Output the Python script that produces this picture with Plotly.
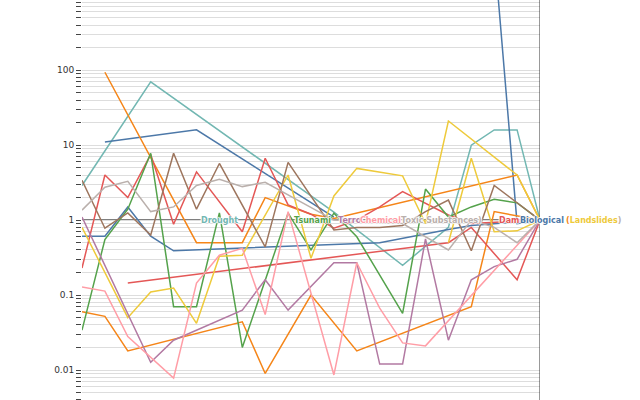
import plotly.graph_objects as go

# x positions (21 evenly spaced steps), values are indexed so the last step = 1
steps = list(range(21))
N = None

drought     = [2.9, N, N, 70, N, N, N, N, N, N, N, 1.28, N, N, 0.25, N, 0.8, 10, 16, 16, 1]
biological  = [N, 11, N, N, N, 16, N, N, N, N, N, 1.1, N, N, N, N, N, N, N, N, N]
biological2 = [0.61, 0.61, 1.5, 0.61, 0.39, N, N, N, N, N, N, N, N, 0.5, N, N, 0.75, 0.85, N, N, 1]
biological3 = [N, N, N, N, N, N, N, N, N, N, N, N, N, N, N, N, N, N, 4000, 0.9, 1]
orange1     = [N, 94, N, N, N, 0.5, 0.5, 0.5, 2.0, N, 1.2, 1.05, N, N, N, N, N, N, N, 4.0, 1]
orange2     = [0.06, 0.052, 0.018, N, N, N, N, 0.044, 0.009, N, 0.1, N, 0.018, N, N, N, N, 0.07, 1.3, N, 1]
dam         = [0.23, 4.0, 2.0, 7.5, 0.88, 4.4, N, 0.7, 6.7, 1.6, 1.2, 0.78, 1.0, 1.5, 2.4, N, 1.17, 0.9, N, N, 1]
dam2        = [N, N, 0.145, N, N, N, N, N, N, N, N, N, N, N, N, N, 0.5, 0.8, N, 0.16, 1]
tsunami     = [0.034, 0.55, 1.4, 7.8, 0.07, 0.07, 1.25, 0.02, N, 1.24, 0.4, 1.24, 0.6, N, 0.057, 2.6, 1.1, 1.5, 1.9, 1.7, 1]
landslides  = [0.8, N, 0.05, 0.11, 0.124, 0.042, 0.33, 0.34, N, 4.0, 0.31, 2.1, 4.9, N, 3.9, 0.9, 21, N, N, 4.0, 1]
landslides2 = [N, N, N, N, N, N, N, N, N, N, N, N, N, N, N, N, 0.5, 6.7, 0.7, 0.72, 1]
terrorism   = [1.1, N, N, 0.0127, 0.025, N, N, 0.063, 0.16, 0.063, N, 0.27, 0.27, 0.012, 0.012, 0.56, 0.025, 0.16, 0.24, 0.3, 1]
chemical    = [0.128, 0.113, 0.028, N, 0.0078, 0.145, 0.34, 0.42, 0.055, 1.3, N, 0.0086, 0.27, 0.067, 0.023, 0.021, N, N, N, N, 1]
brown       = [3.4, 0.78, 1.25, 0.63, 7.8, 1.4, 5.7, N, 0.44, 5.9, N, 0.74, 0.8, 0.8, 0.85, 1.3, 1.85, 0.39, 2.9, 1.7, 1]
toxic       = [1.36, 2.75, 3.3, 1.3, 1.5, 2.9, 3.5, 2.8, 3.2, N, N, 1.0, N, N, 0.9, N, 0.4, 1.0, 0.8, 0.5, 1]

series = [
    ("Drought", drought, "#72b7b2"),
    ("Biological", biological, "#4c78a8"),
    ("Biological b", biological2, "#4c78a8"),
    ("Biological c", biological3, "#4c78a8"),
    ("Orange a", orange1, "#f58518"),
    ("Orange b", orange2, "#f58518"),
    ("Dam", dam, "#e45756"),
    ("Dam b", dam2, "#e45756"),
    ("Tsunami", tsunami, "#54a24b"),
    ("Landslides", landslides, "#eeca3b"),
    ("Landslides b", landslides2, "#eeca3b"),
    ("Terrorism", terrorism, "#b279a2"),
    ("Chemical", chemical, "#ff9da6"),
    ("Brown", brown, "#9d755d"),
    ("Toxic Substances", toxic, "#bab0ac"),
]

label_names = ["Drought", "Tsunami", "Terro", "Chemical", "Toxic Substances)", "Dam", "Biological",
               "<span style='color:#f58518'>(</span>Landslides<span style='color:#bab0ac'>)</span>"]
label_colors = ["#72b7b2", "#54a24b", "#b279a2", "#ff9da6", "#bab0ac", "#e45756", "#4c78a8", "#eeca3b"]
label_px = [199, 292, 336, 358, 399, 497, 518, 564]

major_vals = [0.01, 0.1, 1, 10, 100]
major_text = ["0.01", "0.1", "1", "10", "100"]

fig = go.Figure()
for name, vals, col in series:
    fig.add_trace(go.Scatter(x=steps, y=vals, mode="lines", name=name,
                             line=dict(color=col, width=1.5), connectgaps=True,
                             showlegend=False, hoverinfo="skip"))

tickvals, ticktext = [], []
for e in range(-3, 3):
    for d in range(1, 10):
        v = float(f"{d * 10 ** e:.6g}")
        tickvals.append(v)
        ticktext.append(major_text[major_vals.index(v)] if v in major_vals else "")

X0, X1 = 82, 540
def px_to_paper(p):
    return (p - X0) / (X1 - X0)

shapes = [
    dict(type="line", xref="x", yref="y", x0=0, x1=20, y0=1, y1=1,
         line=dict(color="#555555", width=1.5), layer="below"),
    dict(type="line", xref="x", yref="paper", x0=20, x1=20, y0=0, y1=1,
         line=dict(color="#333333", width=1), layer="above"),
]

halo = "1px 0 1px white, -1px 0 1px white, 0 1px 1px white, 0 -1px 1px white"
annotations = []
for nm, col, p in zip(label_names, label_colors, label_px):
    annotations.append(dict(x=px_to_paper(p), y=0, xref="paper", yref="y", text=nm,
                            showarrow=False, xanchor="left", yanchor="middle",
                            font=dict(family="DejaVu Sans", size=8, color=col, weight="bold",
                                      shadow=halo)))

fig.update_layout(
    width=640, height=400,
    margin=dict(l=82, r=100, t=0, b=0),
    plot_bgcolor="white", paper_bgcolor="white",
    xaxis=dict(range=[0, 20], showgrid=False, showticklabels=False, zeroline=False,
               showline=False, ticks=""),
    yaxis=dict(type="log", range=[-2.4, 2.937], tickvals=tickvals, ticktext=ticktext,
               ticks="outside", ticklen=5, tickcolor="#444", tickwidth=1,
               showgrid=True, gridcolor="#dddddd", gridwidth=1, zeroline=False,
               showline=False, tickfont=dict(family="DejaVu Sans", size=9, color="#333")),
    shapes=shapes,
    annotations=annotations,
)

fig.write_html("out.html", config={"displayModeBar": False},
               post_script="document.body.style.margin='0';")
